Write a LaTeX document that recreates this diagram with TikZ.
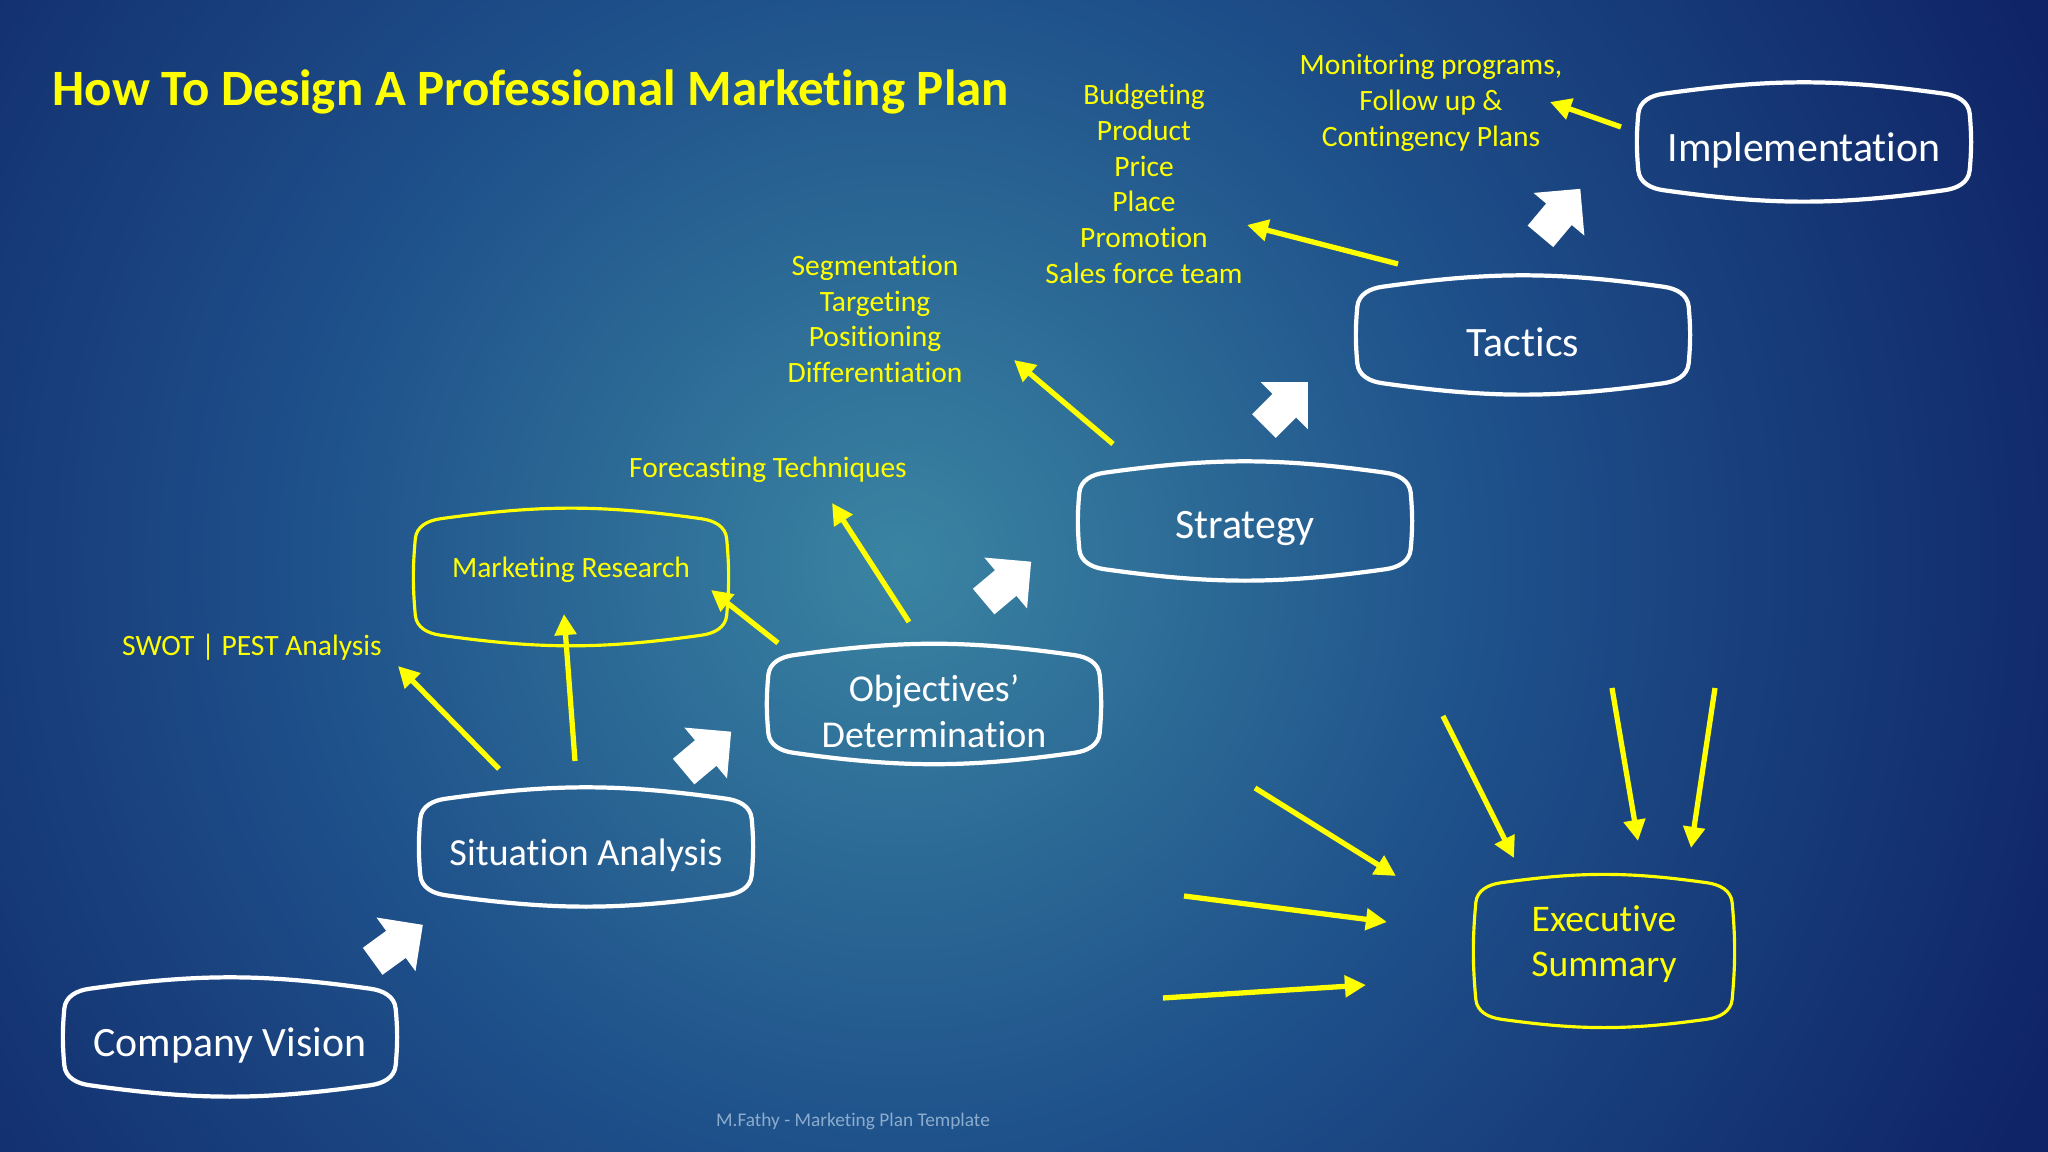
\documentclass[tikz,border=0pt]{standalone}
\usepackage{fontspec}
\setmainfont{Carlito}[Ligatures={TeX,NoCommon}]
\usetikzlibrary{shapes.arrows,arrows.meta}

\definecolor{bgcenter}{RGB}{58,132,162}
\definecolor{bgmid}{RGB}{30,80,138}
\definecolor{bgedge}{RGB}{15,36,102}
\definecolor{mfyellow}{RGB}{255,255,0}
\definecolor{footgray}{RGB}{140,172,205}

\pgfdeclareradialshading{slideglow}{\pgfpointorigin}{color(0bp)=(bgcenter); color(12bp)=(bgmid); color(25bp)=(bgedge); color(50bp)=(bgedge)}

\tikzstyle{whitebox} = [minimum width=3.3cm, minimum height=0.95cm, text=white, align=center, font=\fontsize{11.9}{14}\selectfont]
\tikzstyle{boxline} = [draw=white, line width=1.2pt]
\tikzstyle{yellowline} = [draw=mfyellow, line width=0.9pt]
\tikzstyle{note} = [text=mfyellow, align=center, font=\fontsize{8.4}{10.16}\selectfont]
\tikzstyle{arrow} = [draw=mfyellow, line width=1.5pt, -{Triangle[length=6pt,width=6pt]}]
\tikzstyle{stepup} = [single arrow, fill=white, inner sep=0pt, text height=0.16cm, text depth=0.16cm, single arrow head extend=0.165cm, minimum height=0.62cm]

% hand drawn outline round a node, #3 = lift of the outline
\newcommand{\sketchbox}[3]{%
  \draw [#1] ([yshift=0.2cm+#3]#2.south west)
    to[out=95,in=-95] ([yshift=-0.2cm+#3]#2.north west)
    to[out=85,in=188] ([xshift=0.25cm,yshift=#3]#2.north west)
    to[out=8,in=172] ([xshift=-0.25cm,yshift=#3]#2.north east)
    to[out=-8,in=95] ([yshift=-0.2cm+#3]#2.north east)
    to[out=-85,in=85] ([yshift=0.2cm+#3]#2.south east)
    to[out=-95,in=8] ([xshift=-0.25cm,yshift=#3]#2.south east)
    to[out=188,in=-8] ([xshift=0.25cm,yshift=#3]#2.south west)
    to[out=172,in=-85] ([yshift=0.2cm+#3]#2.south west) -- cycle;}

\begin{document}
\begin{tikzpicture}

\useasboundingbox (0,0) rectangle (20.48,11.52);
\begin{scope}
\clip (0,0) rectangle (20.48,11.52);
\fill [bgedge] (0,0) rectangle (20.48,11.52);
\shade [shading=slideglow] (9.0,5.9) circle (12.5cm);
\end{scope}

\node (title) [anchor=west, inner sep=0pt, text=mfyellow, font=\fontsize{14.5}{17}\selectfont\bfseries] at (0.52,10.60) {How To Design A Professional Marketing Plan};

% steps
\node (vision) [whitebox] at (2.30,1.07) {Company Vision};
\node (situation) [whitebox, font=\fontsize{10.9}{13}\selectfont] at (5.86,2.97) {Situation Analysis};
\node (objectives) [whitebox, font=\fontsize{10.8}{13}\selectfont] at (9.34,4.41) {Objectives’\\Determination};
\node (strategy) [whitebox] at (12.45,6.23) {Strategy};
\node (tactics) [whitebox] at (15.23,8.10) {Tactics};
\node (implementation) [whitebox] at (18.04,10.02) {Implementation};
\node (research) [whitebox, text=mfyellow, minimum width=3.1cm, minimum height=1.15cm, font=\fontsize{8.4}{10}\selectfont] at (5.71,5.75) {\raisebox{0.2cm}{Marketing Research}};
\node (summary) [whitebox, text=mfyellow, minimum width=2.55cm, minimum height=1.35cm, font=\fontsize{10.7}{13}\selectfont] at (16.04,2.08) {Executive\\Summary};

\sketchbox{boxline}{vision}{0.08cm}
\sketchbox{boxline}{situation}{0.08cm}
\sketchbox{boxline}{objectives}{0.07cm}
\sketchbox{boxline}{strategy}{0.08cm}
\sketchbox{boxline}{tactics}{0.07cm}
\sketchbox{boxline}{implementation}{0.08cm}
\sketchbox{yellowline}{research}{0cm}
\sketchbox{yellowline}{summary}{-0.07cm}

% notes
\node (swot) [note] at (2.52,5.05) {SWOT | PEST Analysis};
\node (forecast) [note] at (7.68,6.82) {Forecasting Techniques};
\node (stp) [note] at (8.75,8.33) {Segmentation\\Targeting\\Positioning\\Differentiation};
\node (mix) [note] at (11.44,9.68) {Budgeting\\Product\\Price\\Place\\Promotion\\Sales force team};
\node (monitor) [note] at (14.31,10.49) {Monitoring programs,\\Follow up \&\\Contingency Plans};

\node (footer) [text=footgray, font=\fontsize{5.5}{6.6}\selectfont] at (8.53,0.31) {M.Fathy - Marketing Plan Template};

% white step arrows
\node (up1) [stepup, rotate=36] at (3.91,2.04) {};
\node (up2) [stepup, rotate=40] at (7.01,3.95) {};
\node (up3) [stepup, rotate=40] at (10.01,5.65) {};
\node (up4) [stepup, rotate=45] at (12.80,7.42) {};
\node (up5) [stepup, rotate=50] at (15.55,9.33) {};

% yellow arrow ends
\coordinate (s1) at (4.99,3.83);   \coordinate (e1) at (3.98,4.86);
\coordinate (s2) at (5.75,3.91);   \coordinate (e2) at (5.64,5.38);
\coordinate (s3) at (7.78,5.09);   \coordinate (e3) at (7.11,5.62);
\coordinate (s4) at (9.09,5.30);   \coordinate (e4) at (8.32,6.49);
\coordinate (s5) at (11.13,7.08);  \coordinate (e5) at (10.14,7.92);
\coordinate (s6) at (13.98,8.88);  \coordinate (e6) at (12.47,9.27);
\coordinate (s7) at (16.21,10.25); \coordinate (e7) at (15.50,10.50);
\coordinate (s8) at (12.55,3.64);  \coordinate (e8) at (13.96,2.76);
\coordinate (s9) at (11.84,2.56);  \coordinate (e9) at (13.87,2.30);
\coordinate (s10) at (11.63,1.54); \coordinate (e10) at (13.66,1.67);
\coordinate (s11) at (14.43,4.36); \coordinate (e11) at (15.14,2.94);
\coordinate (s12) at (16.12,4.64); \coordinate (e12) at (16.38,3.11);
\coordinate (s13) at (17.15,4.64); \coordinate (e13) at (16.91,3.04);

\draw [arrow] (s1) -- (e1);
\draw [arrow] (s2) -- (e2);
\draw [arrow] (s3) -- (e3);
\draw [arrow] (s4) -- (e4);
\draw [arrow] (s5) -- (e5);
\draw [arrow] (s6) -- (e6);
\draw [arrow] (s7) -- (e7);
\draw [arrow] (s8) -- (e8);
\draw [arrow] (s9) -- (e9);
\draw [arrow] (s10) -- (e10);
\draw [arrow] (s11) -- (e11);
\draw [arrow] (s12) -- (e12);
\draw [arrow] (s13) -- (e13);

\end{tikzpicture}
\end{document}
